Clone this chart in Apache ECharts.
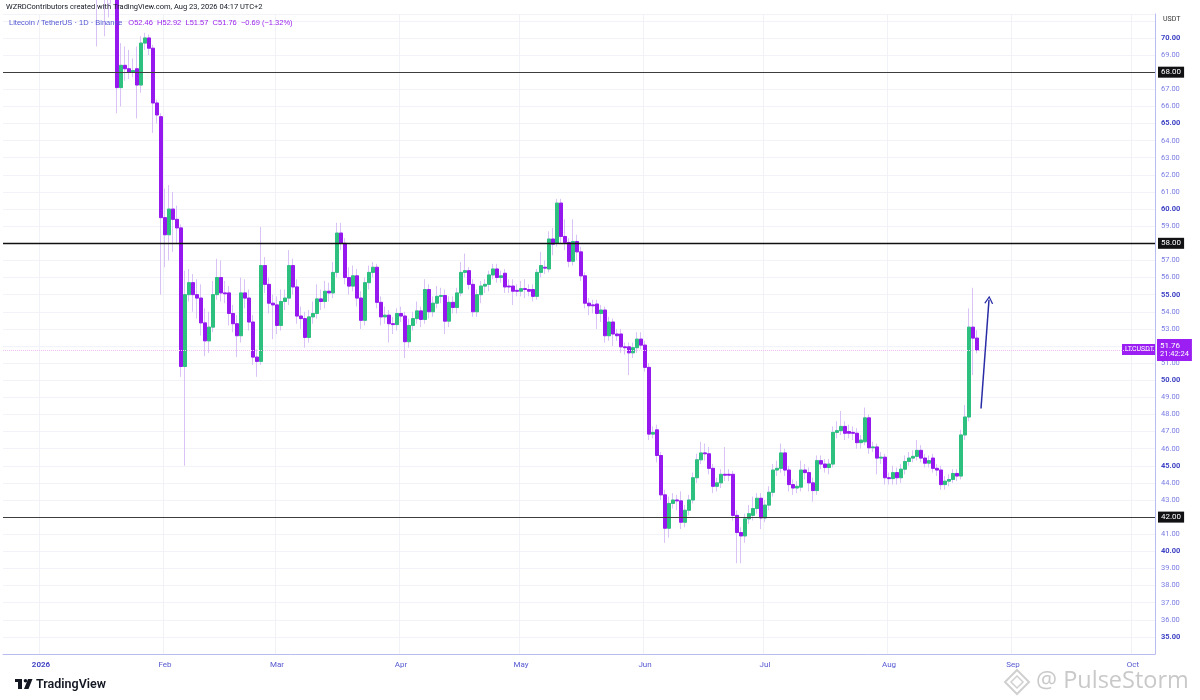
<!DOCTYPE html>
<html><head><meta charset="utf-8">
<script src="https://cdn.jsdelivr.net/npm/echarts@6/dist/echarts.min.js"></script>
<style>html,body{margin:0;padding:0;background:#fff}#chart{width:1200px;height:700px}</style>
</head><body><div id="chart"></div>
<script>
// ---- data ----
const axisStart = '2025-12-23';
const axisEnd = '2026-10-06';
const firstCandle = '2026-01-15';
const opens = [
72.4,72.9,73.3,72.5,72.0,72.6,67.1,68.4,68.2,68.0,
68.2,67.25,69.7,70.0,69.4,66.2,65.4,59.5,58.5,60.0,
59.4,58.9,50.8,55.0,55.7,55.0,54.8,53.35,52.3,53.1,
55.0,56.0,55.1,55.1,53.9,53.3,52.6,55.1,54.8,53.4,
51.35,51.1,56.7,55.6,54.5,54.4,53.2,54.6,54.8,56.7,
55.45,53.75,53.6,52.5,53.7,53.9,54.75,54.6,55.2,55.1,
56.3,58.6,58.0,56.0,55.5,56.1,54.8,53.5,55.7,56.3,
56.6,54.55,53.7,53.8,53.3,53.25,53.9,53.75,52.25,53.2,
53.6,54.05,53.55,55.3,54.0,54.5,54.9,54.95,53.45,54.55,
54.25,55.1,56.3,56.4,55.6,54.0,55.0,55.5,55.6,56.15,
56.5,56.0,56.25,55.5,55.5,55.25,55.2,55.35,55.3,55.3,
54.9,56.3,56.6,56.5,58.25,58.0,60.35,58.4,58.05,56.95,
58.1,57.5,56.1,54.5,54.4,54.45,53.9,54.1,52.6,53.4,
52.7,52.7,51.95,51.95,51.6,51.9,52.4,52.05,50.75,46.85,
47.1,45.6,43.3,41.35,42.8,43.0,42.95,41.7,42.4,43.0,
44.3,45.35,45.75,45.7,44.85,43.8,44.0,44.5,44.5,44.5,
42.1,41.1,40.9,41.9,42.1,42.5,43.1,41.95,42.7,43.45,
44.75,44.85,45.75,44.75,43.9,43.7,43.75,44.75,44.6,44.0,
43.55,45.3,45.1,44.9,45.1,46.95,47.05,47.3,47.0,46.95,
46.9,46.35,46.4,47.8,46.05,46.1,45.45,45.5,44.3,44.25,
44.6,44.3,44.8,45.25,45.45,45.55,45.9,45.45,45.15,45.45,
44.85,44.75,43.9,44.1,44.2,44.55,44.4,46.8,47.85,53.1,
52.46];
const highs = [
73.2,73.8,73.6,73.0,72.8,72.9,69.7,69.5,69.3,68.8,
69.5,70.1,70.3,70.2,69.6,66.4,65.6,61.2,61.4,61.0,
60.2,59.1,56.4,56.5,56.2,55.9,55.6,54.2,54.0,55.8,
57.1,57.0,55.8,55.5,54.4,53.8,56.0,55.9,55.3,53.8,
51.8,58.95,57.2,56.0,55.0,54.9,55.3,55.3,57.6,57.1,
55.9,54.3,54.0,54.1,54.6,55.6,55.3,55.8,55.7,56.9,
59.2,59.2,58.3,56.6,56.7,56.5,55.2,56.0,56.7,56.9,
56.8,54.9,54.3,54.1,53.7,54.2,54.3,54.0,53.6,54.0,
54.6,54.3,55.9,55.6,54.9,55.5,55.4,55.3,54.9,54.9,
55.4,56.9,57.4,56.6,55.9,55.3,55.8,55.9,56.4,56.8,
56.8,56.4,56.5,55.9,55.9,55.6,55.8,55.9,55.6,55.6,
56.5,57.5,57.0,58.7,58.9,60.6,60.6,59.4,58.3,59.4,
58.5,57.8,56.3,54.8,54.7,54.7,54.4,54.3,53.7,53.6,
53.0,53.0,52.2,52.2,52.2,52.8,52.8,52.3,51.0,47.3,
47.4,45.8,43.6,43.2,43.4,43.3,43.5,42.7,43.3,44.6,
45.7,46.4,46.3,46.1,45.1,44.3,44.8,46.1,44.8,44.7,
42.4,41.4,42.2,42.7,43.2,43.4,43.4,43.0,43.8,45.1,
45.3,46.3,46.0,45.0,44.2,44.1,45.3,45.1,44.9,44.3,
45.6,45.6,45.4,45.4,47.3,47.6,48.2,47.6,47.4,47.3,
47.2,46.8,48.4,48.0,46.4,46.3,45.8,45.7,44.6,45.0,
44.9,45.1,45.6,45.8,45.9,46.5,46.2,45.7,45.6,45.7,
45.1,45.0,44.4,44.5,44.8,44.8,47.1,48.55,54.2,55.4,
52.92];
const lows = [
69.5,71.6,70.1,71.2,71.5,65.6,66.0,67.5,67.6,67.7,
65.3,66.8,69.3,69.0,64.45,65.0,55.0,56.6,57.0,57.5,
58.0,50.2,45.0,54.6,54.0,53.6,52.6,51.4,51.6,52.8,
54.7,54.6,54.5,53.2,52.8,51.35,52.2,54.2,52.9,50.9,
50.2,50.9,55.1,53.9,52.4,52.7,52.9,54.1,54.4,55.0,
53.3,53.0,51.9,52.2,53.3,53.6,54.1,54.2,54.6,54.8,
56.0,57.6,55.6,55.0,55.2,54.3,53.0,53.2,55.3,56.0,
54.2,53.2,53.3,52.2,52.7,52.9,53.4,51.3,51.9,52.9,
53.3,53.1,53.3,53.6,53.7,54.2,54.5,52.7,53.1,53.9,
53.9,54.9,56.0,55.3,53.7,53.7,54.5,55.1,55.2,55.9,
55.7,55.7,55.1,55.1,54.4,54.9,54.9,54.8,54.9,54.6,
54.7,56.0,56.2,56.3,57.3,57.8,58.0,57.6,56.6,56.7,
57.0,55.8,54.2,53.8,53.9,53.0,53.4,52.2,52.3,52.0,
52.3,51.6,51.5,50.3,51.3,51.6,51.8,50.5,46.5,46.6,
45.2,43.0,40.5,40.8,42.5,42.4,41.3,41.4,42.1,42.8,
44.0,45.1,45.3,44.5,43.4,43.5,43.7,44.1,44.1,41.8,
39.3,39.3,40.5,41.6,41.8,42.2,41.3,41.7,42.4,43.2,
44.4,44.6,44.4,43.5,43.3,43.4,43.5,44.2,43.5,42.9,
43.3,44.8,44.6,44.5,44.9,46.6,46.8,46.5,46.6,46.5,
46.0,46.0,46.2,45.7,45.8,44.5,45.1,43.9,43.9,43.9,
43.9,44.0,44.5,45.0,45.2,45.3,45.2,44.9,44.9,44.6,
44.4,43.6,43.6,43.8,44.0,44.1,44.2,46.5,47.6,50.3,
51.57];
const closes = [
72.9,73.3,72.5,72.0,72.6,67.1,68.4,68.2,68.0,68.1,
67.25,69.7,70.0,69.4,66.2,65.5,59.5,58.5,60.0,59.4,
58.9,50.8,55.0,55.7,55.0,54.8,53.35,52.3,53.1,55.0,
56.0,55.1,55.05,53.9,53.3,52.6,55.1,54.8,53.4,51.35,
51.1,56.7,55.6,54.5,54.4,53.2,54.6,54.8,56.7,55.45,
53.75,53.6,52.5,53.7,53.9,54.75,54.6,55.2,55.1,56.3,
58.6,58.0,56.0,55.5,56.1,54.8,53.5,55.7,56.3,56.6,
54.55,53.7,53.8,53.3,53.25,53.9,53.75,52.25,53.2,53.6,
54.05,53.55,55.3,54.0,54.5,54.9,54.95,53.45,54.55,54.25,
55.1,56.3,56.4,55.6,54.0,55.0,55.5,55.6,56.15,56.5,
56.0,56.1,55.45,55.45,55.2,55.2,55.35,55.3,55.2,54.9,
56.3,56.7,56.55,58.25,57.95,60.35,58.4,58.05,56.95,58.1,
57.5,56.1,54.5,54.35,54.35,53.9,54.1,52.6,53.4,52.7,
52.6,51.95,51.9,51.6,51.9,52.4,52.05,50.75,46.85,46.95,
45.6,43.3,41.35,42.8,43.0,42.95,41.7,42.4,43.0,44.3,
45.35,45.75,45.7,44.85,43.8,44.0,44.5,44.45,44.45,42.1,
41.1,40.9,41.9,42.2,42.5,43.1,41.95,42.7,43.45,44.75,
44.85,45.75,44.75,43.9,43.7,43.8,44.75,44.6,44.0,43.55,
45.3,45.1,44.9,45.1,46.95,47.05,47.3,46.9,46.9,46.9,
46.35,46.5,47.8,46.05,46.1,45.45,45.5,44.3,44.25,44.6,
44.3,44.8,45.25,45.45,45.55,45.9,45.45,45.15,45.3,44.85,
44.75,43.9,44.1,44.2,44.55,44.4,46.8,47.85,53.1,52.46,
51.76];
const levels = [68, 58, 42];
const levelWidths = [1, 1.4, 1];
const arrowFrom = ['2026-08-24', 48.35];
const arrowTo = ['2026-08-26', 54.7];
const monthLabels = ['2026','Feb','Mar','Apr','May','Jun','Jul','Aug','Sep','Oct','Nov','Dec'];
const headerLine1 = 'WZRDContributors created with TradingView.com, Aug 23, 2026 04:17 UTC+2';
const symbolLine = 'Litecoin / TetherUS · 1D · Binance';
const ohlcLine = 'O52.46  H52.92  L51.57  C51.76  −0.69 (−1.32%)';
const tickerName = 'LTCUSDT';
const countdown = '21:42:24';
const currency = 'USDT';

// ---- build ----
const DAY = 86400000;
const categories = [];
for (let t = Date.parse(axisStart + 'T00:00:00Z'); t <= Date.parse(axisEnd + 'T00:00:00Z'); t += DAY) {
  categories.push(new Date(t).toISOString().slice(0, 10));
}
const startIdx = categories.indexOf(firstCandle);
const empty = ['-', '-', '-', '-'];
const wickData = categories.map(() => empty);
const bodyData = categories.map(() => empty);
opens.forEach((o, i) => {
  const c = closes[i];
  wickData[startIdx + i] = [o, c, Math.min(lows[i], o, c), Math.max(highs[i], o, c)];
  bodyData[startIdx + i] = [o, c, Math.min(o, c), Math.max(o, c)];
});
const lastClose = closes[closes.length - 1];

const UP = '#2dc07f', DOWN = '#9618ef', WICK = '#d9c2f6';
const AXISC = '#b9bcef';
const FONT = 'Roboto, "Liberation Sans", sans-serif';
const isMonthStart = (idx, val) => val.slice(8) === '01';

const chart = echarts.init(document.getElementById('chart'), null, {renderer: 'canvas'});
const option = {
  animation: false,
  backgroundColor: '#ffffff',
  textStyle: {fontFamily: FONT},
  grid: {left: 3, right: 45, top: 14, bottom: 46},
  xAxis: {
    type: 'category', data: categories, boundaryGap: true,
    axisLine: {lineStyle: {color: AXISC}},
    axisTick: {show: false, alignWithLabel: true, interval: isMonthStart},
    axisLabel: {
      interval: isMonthStart, margin: 7, fontSize: 8, color: '#5558d0', fontFamily: FONT,
      formatter: v => { const m = +v.slice(5, 7); return (m === 1) ? '{y|' + v.slice(0, 4) + '}' : monthLabels[m - 1]; },
      rich: {y: {fontWeight: 'bold', fontSize: 8, color: '#4346c6'}}
    },
    splitLine: {show: true, interval: isMonthStart, lineStyle: {color: '#f1f2f8', width: 1}}
  },
  yAxis: {
    type: 'value', position: 'right', min: 34, max: 71.4, interval: 1, scale: true,
    axisLine: {show: true, lineStyle: {color: AXISC}},
    axisTick: {show: false},
    axisLabel: {
      margin: 6, fontSize: 7.5, color: '#7a7de2', fontFamily: FONT,
      formatter: v => {
        const r = Math.round(v);
        if (Math.abs(v - r) > 1e-6 || r < 35 || r > 70) return '';
        return r % 5 === 0 ? '{b|' + r.toFixed(2) + '}' : r.toFixed(2);
      },
      rich: {b: {fontWeight: 'bold', fontSize: 7.5, color: '#3f43c4'}}
    },
    splitLine: {show: true, lineStyle: {color: '#f2f3f8', width: 1}}
  },
  series: [
    {
      type: 'candlestick', name: 'wick', data: wickData, barWidth: 3, z: 2,
      itemStyle: {color: 'transparent', color0: 'transparent', borderColor: WICK, borderColor0: WICK, borderWidth: 1}
    },
    {
      type: 'candlestick', name: 'body', data: bodyData, barWidth: 3, z: 3,
      itemStyle: {color: UP, color0: DOWN, borderColor: UP, borderColor0: DOWN, borderWidth: 1},
      markLine: {
        silent: true, symbol: ['none', 'none'], animation: false,
        data: [
          ...levels.map((lv, i) => ({
            yAxis: lv,
            lineStyle: {color: i === 1 ? '#111' : '#3d3d3d', width: levelWidths[i], type: 'solid'},
            label: {show: true, position: 'end', distance: 3, formatter: p => p.value.toFixed(2),
              backgroundColor: '#111114', color: '#fff', fontSize: 8, padding: [2, 3, 1, 3], fontFamily: FONT}
          })),
          {
            yAxis: lastClose,
            lineStyle: {color: '#efc3f2', width: 1, type: 'dotted'},
            label: {show: true, position: 'end', distance: 2,
              formatter: p => '{p|' + p.value.toFixed(2) + '}\n{t|' + countdown + '}',
              backgroundColor: '#9b1ff2', padding: [2, 3, 2, 3],
              rich: {p: {fontSize: 8, color: '#fff', lineHeight: 9, fontFamily: FONT}, t: {fontSize: 7.5, color: '#fff', lineHeight: 9, fontFamily: FONT}}}
          },
          [
            {coord: arrowFrom, symbol: 'none', lineStyle: {color: '#2a2ca6', width: 1.5, type: 'solid'}, label: {show: false}},
            {coord: arrowTo, symbol: 'path://M0,10 L5,0 L10,10 L8.6,10.6 L5,3 L1.4,10.6 Z', symbolSize: [9, 8]}
          ]
        ]
      }
    }
  ]
};
chart.setOption(option);

const yPrice = chart.convertToPixel({yAxisIndex: 0}, lastClose);
const xRight = 1200 - option.grid.right;
chart.setOption({
  graphic: [
    {type: 'text', left: 6, top: 3, z: 100, style: {text: headerLine1, fontSize: 7.5, fill: '#131722', fontFamily: FONT}},
    {type: 'text', left: 9, top: 17, z: 100, style: {
      text: '{a|' + symbolLine + '}  {b|' + ohlcLine + '}', fontFamily: FONT,
      rich: {a: {fontSize: 7.5, fill: '#5356d2'}, b: {fontSize: 7.5, fill: '#9a22ea'}}}},
    {type: 'text', left: 1163, top: 16, z: 100, style: {text: currency, fontSize: 7, fill: '#333', fontFamily: FONT}},
    {type: 'group', x: xRight - 33, y: yPrice - 6, z: 100, children: [
      {type: 'rect', shape: {x: 0, y: 0, width: 33, height: 11}, style: {fill: '#9b1ff2'}},
      {type: 'text', x: 3, y: 2, style: {text: tickerName, fontSize: 7, fill: '#fff', fontFamily: FONT}}
    ]},
    {type: 'group', x: 15, y: 679, z: 100, children: [
      {type: 'rect', shape: {x: 0, y: 0, width: 7, height: 3}, style: {fill: '#131722'}},
      {type: 'rect', shape: {x: 3, y: 0, width: 4, height: 10}, style: {fill: '#131722'}},
      {type: 'circle', shape: {cx: 10.5, cy: 1.8, r: 1.8}, style: {fill: '#131722'}},
      {type: 'polygon', shape: {points: [[13, 0], [17.5, 0], [13.5, 10], [9, 10]]}, style: {fill: '#131722'}},
      {type: 'text', x: 21, y: -1, style: {text: 'TradingView', fontSize: 12.5, fontWeight: 600, fill: '#131722', fontFamily: FONT}}
    ]},
    {type: 'group', x: 1004, y: 668, z: 100, children: [
      {type: 'polygon', shape: {points: [[13, 2], [25, 14], [13, 26], [1, 14]]}, style: {fill: 'rgba(255,255,255,0.85)', stroke: '#d0d0d0', lineWidth: 2}},
      {type: 'polygon', shape: {points: [[13, 8], [19, 14], [13, 20], [7, 14]]}, style: {fill: 'none', stroke: '#d0d0d0', lineWidth: 1.5}},
      {type: 'text', x: 32, y: 1, style: {text: '@ PulseStorm', fontSize: 23.5, fill: '#c9c9c9', fontFamily: '"Open Sans", sans-serif'}}
    ]}
  ]
});
</script></body></html>
